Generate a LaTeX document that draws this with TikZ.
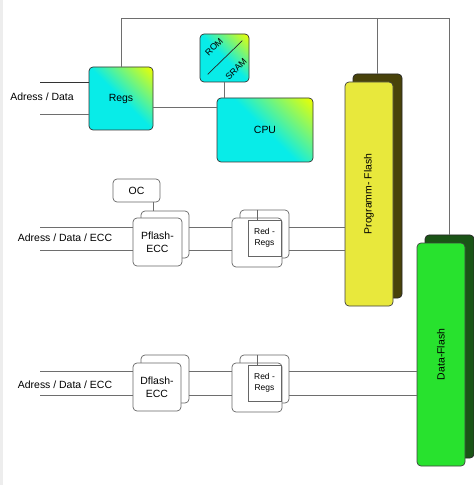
\documentclass[tikz,border=0pt]{standalone}
\usepackage{fontspec}
\setmainfont{Liberation Sans}
\usetikzlibrary{calc}
\definecolor{cyC}{RGB}{8,236,232}
\definecolor{yeC}{RGB}{236,255,0}
\definecolor{lineC}{RGB}{110,110,110}
\definecolor{pfC}{RGB}{232,232,60}
\definecolor{pfD}{RGB}{72,66,10}
\definecolor{dfC}{RGB}{40,226,46}
\definecolor{dfD}{RGB}{26,84,22}
\pgfdeclarehorizontalshading{cyy}{100bp}{color(0bp)=(cyC); color(50bp)=(cyC); color(85bp)=(yeC); color(100bp)=(yeC)}
\begin{document}
\begin{tikzpicture}[x=1bp,y=-1bp,
  font=\fontsize{10.5}{13}\selectfont,
  conn/.style={draw=lineC, line width=0.8bp},
  gbox/.style={draw=black!80, line width=0.7bp, rounded corners=4bp, shading=cyy, shading angle=45, inner sep=0pt},
  wbox/.style={draw=black!60, line width=0.7bp, rounded corners=4bp, fill=white, inner sep=0pt, align=center},
  sqbox/.style={draw=black!60, line width=0.7bp, fill=white, inner sep=0pt, align=center, font=\fontsize{8.5}{11}\selectfont},
  pfront/.style={draw=black!75, line width=0.7bp, rounded corners=4bp, fill=pfC, inner sep=0pt},
  pback/.style={draw=black!85, line width=0.7bp, rounded corners=4bp, fill=pfD, inner sep=0pt},
  dfront/.style={draw=black!75, line width=0.7bp, rounded corners=4bp, fill=dfC, inner sep=0pt},
  dback/.style={draw=black!85, line width=0.7bp, rounded corners=4bp, fill=dfD, inner sep=0pt},
  lbl/.style={inner sep=0pt},
  diag/.style={rotate=45, inner sep=0pt, font=\fontsize{9}{11}\selectfont}
]
\useasboundingbox (0,0) rectangle (474,485);
\fill[black!7] (0,0) rectangle (2.5,485);

% coordinates for free ends
\coordinate (top) at (0,18);
\coordinate (a1) at (40,82);
\coordinate (a2) at (40,114);
\coordinate (b1) at (40,227);
\coordinate (b2) at (40,250);
\coordinate (c1) at (40,371);
\coordinate (c2) at (40,395);
\coordinate (ocx) at (153,0);

% back boxes
\node[pback, minimum width=49bp, minimum height=224bp] (pfb) at (377.5,186) {};
\node[dback, minimum width=49bp, minimum height=223bp] (dfb) at (449.5,346.5) {};

% main boxes
\node[gbox, minimum width=64bp, minimum height=63bp] (regs) at (121,98.5) {Regs};
\node[gbox, minimum width=49bp, minimum height=48bp] (rom) at (224.5,58) {};
\node[gbox, minimum width=96bp, minimum height=64bp] (cpu) at (265,130) {CPU};
\node[pfront, minimum width=48bp, minimum height=224bp] (pf) at (369,194) {};
\node[rotate=90, lbl] (pft) at (pf.center) {Programm- Flash};
\node[dfront, minimum width=48bp, minimum height=223bp] (df) at (441,354.5) {};
\node[rotate=90, lbl] (dft) at (df.center) {Data-Flash};

% ROM / SRAM
\draw[black!85, line width=0.7bp] ($(rom.south west)+(8,-8)$) coordinate (rd1) -- ($(rom.north east)+(-7,7)$) coordinate (rd2);
\node[diag] (romt) at (214,47) {ROM};
\node[diag] (sramt) at (236,69) {SRAM};

% OC and ECC blocks
\node[wbox, minimum width=47bp, minimum height=23bp] (oc) at (136.5,190.5) {OC};
\node[wbox, minimum width=48bp, minimum height=47bp] (pecb) at (165,234.5) {};
\node[wbox, minimum width=49bp, minimum height=48bp] (pec) at (157.5,242) {Pflash-\\ECC};
\node[wbox, minimum width=48bp, minimum height=48bp] (decb) at (165,379) {};
\node[wbox, minimum width=48bp, minimum height=48bp] (dec) at (157,387) {Dflash-\\ECC};

% Red-Regs stacks
\node[wbox, minimum width=49bp, minimum height=48bp] (rr1b) at (264.5,234) {};
\node[wbox, minimum width=50bp, minimum height=49bp] (rr1f) at (257,242.5) {};
\node[sqbox, minimum width=33bp, minimum height=36bp] (rr1) at (264.5,238) {Red -\\Regs};
\draw[draw=black!60, line width=0.7bp] (rr1b.north -| 257,0) -- (rr1.north -| 257,0);

\node[wbox, minimum width=49bp, minimum height=48bp] (rr2b) at (264.5,379) {};
\node[wbox, minimum width=50bp, minimum height=49bp] (rr2f) at (257,387.5) {};
\node[sqbox, minimum width=33bp, minimum height=36bp] (rr2) at (264.5,383) {Red -\\Regs};
\draw[draw=black!60, line width=0.7bp] (rr2b.north -| 257,0) -- (rr2.north -| 257,0);

% labels
\node[lbl] (l1) at (42,97) {Adress / Data};
\node[lbl] (l2) at (65,238) {Adress / Data / ECC};
\node[lbl] (l3) at (65,385) {Adress / Data / ECC};

% connectors
\draw[conn] (regs.north) -- (regs.north |- top) -- (dfb.north |- top) -- (dfb.north);
\draw[conn] (pfb.north |- top) -- (pfb.north);
\draw[conn, draw=black!80] (a1) -- (a1 -| regs.west);
\draw[conn] (a2) -- (a2 -| regs.west);
\draw[conn] (regs.east |- 0,107) -- (cpu.west |- 0,107);
\draw[conn] (rom.south) -- (rom.south |- cpu.north);
\draw[conn] (oc.south -| ocx) -- (pecb.north -| ocx);

\draw[conn] (b1) -- (b1 -| pec.west);
\draw[conn] (b2) -- (b2 -| pec.west);
\draw[conn] (pecb.east |- b1) -- (rr1f.west |- b1);
\draw[conn] (pecb.east |- b2) -- (rr1f.west |- b2);
\draw[conn] (rr1b.east |- b1) -- (pf.west |- b1);
\draw[conn] (rr1b.east |- b2) -- (pf.west |- b2);

\draw[conn] (c1) -- (c1 -| dec.west);
\draw[conn] (c2) -- (c2 -| dec.west);
\draw[conn] (decb.east |- c1) -- (rr2f.west |- c1);
\draw[conn] (decb.east |- c2) -- (rr2f.west |- c2);
\draw[conn] (rr2b.east |- c1) -- (df.west |- c1);
\draw[conn] (rr2b.east |- c2) -- (df.west |- c2);
\end{tikzpicture}
\end{document}
